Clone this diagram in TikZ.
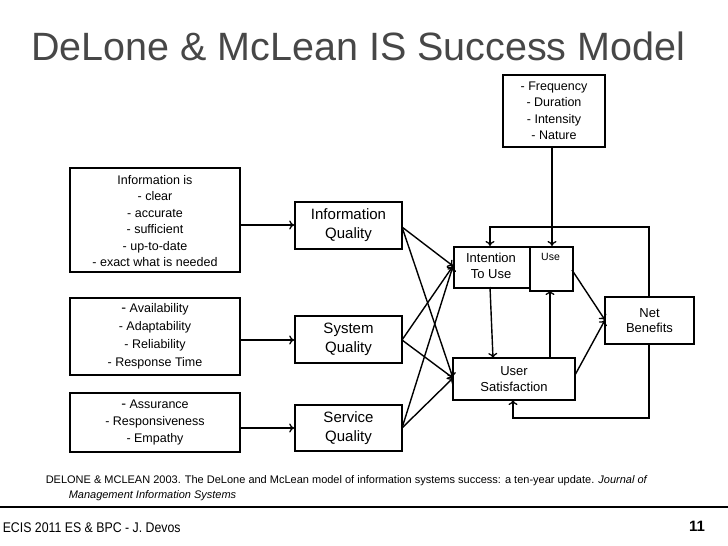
\documentclass[tikz,border=0pt]{standalone}
\usepackage{fontspec}
\setmainfont{Liberation Sans}
\usetikzlibrary{arrows.meta}
\begin{document}
\begin{tikzpicture}[x=1pt,y=-1pt,>={To[length=5pt,width=9pt,line width=1.3pt]},
  line width=1.5pt,
  bx/.style={draw,line width=1.6pt,inner sep=0pt},
  ar/.style={->,line width=1.4pt},
  t/.style={font=\fontsize{13}{15.5}\selectfont,align=center}]
\useasboundingbox (0,0) rectangle (728,546);
\node[anchor=west,text=black!72,font=\fontsize{39.5}{42}\selectfont] (title) at (27,46) {DeLone \& McLean IS Success Model};
% left boxes
\draw[bx] (70,168) rectangle (240,272);
\node[t,font=\fontsize{12.5}{16.5}\selectfont] (l1) at (155,221) {Information is\\- clear\\- accurate\\- sufficient\\- up-to-date\\- exact what is needed};
\draw[bx] (70,298) rectangle (240,375);
\node[t,font=\fontsize{12.5}{18}\selectfont] (l2) at (155,336) {{\Large -} Availability\\- Adaptability\\- Reliability\\- Response Time};
\draw[bx] (70,393) rectangle (240,452);
\node[t,font=\fontsize{12.5}{17}\selectfont] (l3) at (155,422) {{\Large -} Assurance\\- Responsiveness\\- Empathy};
% quality boxes
\node[bx,minimum width=107,minimum height=47,t,font=\fontsize{15}{19}\selectfont] (iq) at (348.5,225.5) {Information\\Quality};
\node[bx,minimum width=107,minimum height=47,t,font=\fontsize{15}{19}\selectfont] (sq) at (348.5,339.5) {System\\Quality};
\node[bx,minimum width=107,minimum height=46,t,font=\fontsize{15}{19}\selectfont] (vq) at (348.5,428) {Service\\Quality};
\coordinate (a1) at (240,225); \coordinate (a2) at (240,340); \coordinate (a3) at (240,428);
\draw[ar] (a1) -- (iq.west|-a1);
\draw[ar] (a2) -- (sq.west|-a2);
\draw[ar] (a3) -- (vq.west|-a3);
% right side
\node[bx,minimum width=76,minimum height=41,anchor=north west] (itu) at (453,246) {};
\node[t,anchor=north] (itut) at (491,249) {Intention\\To Use};
\node[bx,minimum width=43,minimum height=44,anchor=north west] (use) at (529,246) {};
\node[font=\fontsize{10.5}{12}\selectfont,anchor=north] (uset) at (550.5,249) {Use};
\node[bx,minimum width=122,minimum height=42,t] (us) at (514,379) {User\\Satisfaction};
\node[bx,minimum width=89,minimum height=47,t] (nb) at (649.5,320.5) {Net\\Benefits};
\node[bx,minimum width=102,minimum height=72,t,font=\fontsize{12.5}{16.5}\selectfont] (fq) at (554,111) {- Frequency\\- Duration\\- Intensity\\- Nature};
\coordinate (it) at (453,266); \coordinate (ut) at (453,378);
\foreach \q/\y in {iq/227,sq/340,vq/428}{
  \draw[ar] (402,\y) -- (it);
  \draw[ar] (402,\y) -- (ut);}
\draw[ar] (fq.south-|552,0) -- (552,246);
\draw[ar] (572,270) -- (605,320);
\draw[ar] (575,375) -- (605,320);
\draw[ar] (490,287) -- (493,358);
\draw[ar] (550,358) -- (550,290);
\draw[ar] (649,297) -- (649,227) -- (490,227) -- (490,246);
\draw[ar] (649,344) -- (649,418) -- (513,418) -- (513,400);
% reference
\node[anchor=north west,font=\fontsize{11}{15}\selectfont,align=left,inner sep=0pt] (ref) at (45,475) {DELONE \& MCLEAN 2003. The DeLone and McLean model of information systems success: a ten-year update. \textit{Journal of}\\\hspace*{23pt}\textit{Management Information Systems}};
\draw[line width=2.2pt] (0,507) -- (728,507);
\node[anchor=west,inner sep=0pt,font=\fontsize{14}{16}\selectfont] (ft) at (2,528) {\addfontfeature{FakeStretch=0.88}ECIS 2011 ES \& BPC - J. Devos};
\node[anchor=east,font=\bfseries\fontsize{15}{17}\selectfont] (pg) at (709,526) {11};
\end{tikzpicture}
\end{document}
